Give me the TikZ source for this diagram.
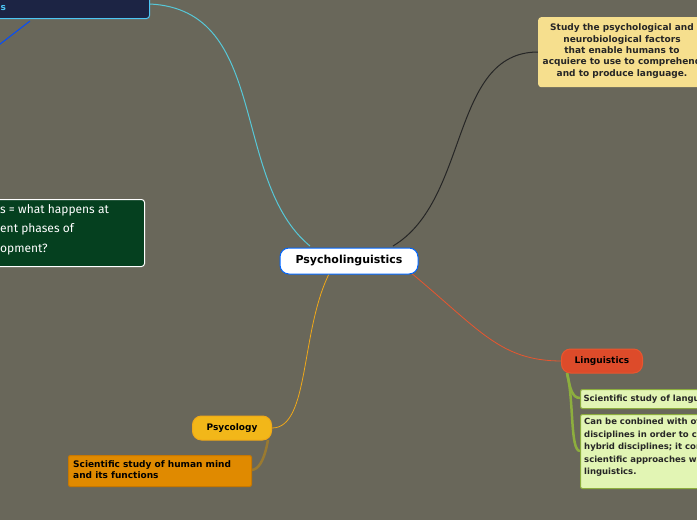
\documentclass[tikz,border=0pt]{standalone}
\usepackage{fontspec}
\setmainfont{DejaVu Sans}
\newfontfamily\handfont{Fira Sans}
\definecolor{bg}{HTML}{69675A}
\definecolor{gleaf}{HTML}{E2F5B4}
\definecolor{gleafb}{HTML}{8DAE3E}
\definecolor{HTML-navy}{HTML}{1C2444}
\definecolor{HTML-dg}{HTML}{05401F}
\definecolor{HTML-yel}{HTML}{F6DF8E}
\definecolor{HTML-red}{HTML}{DD4B2A}
\definecolor{HTML-redb}{HTML}{E8562F}
\definecolor{HTML-py}{HTML}{F2B719}
\definecolor{HTML-pyb}{HTML}{F0A818}
\definecolor{HTML-or}{HTML}{E08A00}
\definecolor{HTML-orb}{HTML}{C87800}
\definecolor{HTML-brn}{HTML}{9A7A30}
\begin{document}
\begin{tikzpicture}[x=1pt,y=-1pt,
  lbl/.style={font=\bfseries\fontsize{9}{11}\selectfont},
  topic/.style={rounded corners=9pt,draw,line width=1pt,lbl,text=black,inner sep=0pt},
  leaf/.style={rounded corners=2pt,draw=gleafb,fill=gleaf,line width=1pt,lbl,text=black!85,align=left,anchor=north west,inner sep=3pt}]
\useasboundingbox (0,0) rectangle (697,520);
\clip (0,0) rectangle (697,520);
\fill[bg] (0,0) rectangle (697,520);
% connectors
\draw[cyan!60!white!85!green,line width=1pt] (310,246) .. controls (230,180) and (270,10) .. (150,4);
\draw[black!85,line width=1pt] (393,246) .. controls (470,200) and (450,52) .. (538,52);
\draw[HTML-redb,line width=0.8pt] (410,272) .. controls (480,330) and (500,361) .. (562,361);
\draw[HTML-pyb,line width=0.8pt] (330,272) .. controls (300,330) and (310,428) .. (272,428);
\draw[HTML-brn,line width=2.5pt] (268,440) .. controls (264,462) and (258,470) .. (251,470);
\draw[gleafb,line width=2.5pt] (567,373) .. controls (570,388) and (572,398) .. (580,398);
\draw[gleafb,line width=2.5pt] (567,373) .. controls (574,400) and (570,451) .. (580,451);
\draw[blue!70!cyan,line width=1pt] (30,21) -- (-5,48);
% nodes
\node[topic,fill=white,draw=blue!60!cyan,minimum width=138pt,minimum height=26pt,font=\bfseries\fontsize{11}{13}\selectfont] (c) at (349,261) {Psycholinguistics};
\node[rounded corners=3pt,draw=cyan!70!white,line width=1pt,fill=HTML-navy,minimum width=180pt,minimum height=30pt,anchor=south east] (nv) at (150,19) {};
\node[text=cyan!70!white,lbl,anchor=west] at (-3,8) {s};
\node[rounded corners=3pt,draw=white,line width=1pt,fill=HTML-dg,minimum width=180pt,minimum height=67pt,anchor=north east] (gb) at (145,199) {};
\node[text=white,anchor=north west,align=left,font=\handfont\fontsize{12}{19.5}\selectfont,inner sep=0pt] at (0,204) {s = what happens at\\ent phases of\\opment?};
\node[rounded corners=3pt,fill=HTML-yel,minimum width=170pt,minimum height=70pt,anchor=north west] (yb) at (538,17) {};
\node[align=center,text=black!85,font=\bfseries\fontsize{9}{11.3}\selectfont] at (622,51) {Study the psychological and\\neurobiological factors\\that enable humans to\\acquiere to use to comprehend\\and to produce language.};
\node[topic,fill=HTML-red,draw=HTML-redb,minimum width=81pt,minimum height=24pt] (li) at (602,361) {Linguistics};
\node[leaf,minimum width=130pt,minimum height=19pt,font=\bfseries\fontsize{8.5}{10}\selectfont] (l1) at (580,389) {Scientific study of language};
\node[leaf,minimum width=130pt,minimum height=74pt,anchor=north west] (l2) at (580,414) {};
\node[align=left,anchor=north west,text=black!85,font=\bfseries\fontsize{8.5}{12.5}\selectfont,inner sep=0pt] at (584,418) {Can be conbined with other\\disciplines in order to create\\hybrid disciplines; it contains\\scientific approaches which\\linguistics.};
\node[topic,fill=HTML-py,draw=HTML-pyb,minimum width=79pt,minimum height=24pt] (py) at (232,428) {Psycology};
\node[rounded corners=2pt,fill=HTML-or,draw=HTML-orb,line width=1pt,minimum width=183pt,minimum height=31pt,anchor=north west,inner sep=0pt] (ob) at (68,455) {};
\node[align=left,anchor=west,font=\bfseries\fontsize{9}{11}\selectfont,inner sep=0pt] at (73,470) {Scientific study of human mind\\and its functions};
\end{tikzpicture}
\end{document}
